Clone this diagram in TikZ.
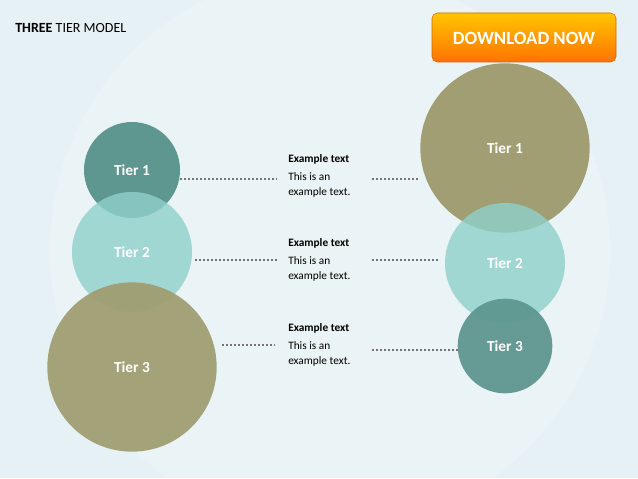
\documentclass[tikz,border=0pt]{standalone}
\usepackage{fontspec}
\setmainfont{Carlito}
\begin{document}
\begin{tikzpicture}[x=0.75pt,y=-0.75pt,
  tier/.style={circle,draw=none,font=\bfseries\fontsize{11.5}{13}\selectfont,text=white,inner sep=0pt},
  dots/.style={draw=black!55,line width=1.3pt,dash pattern=on 1.3pt off 1.7pt},
  body/.style={anchor=west,font=\fontsize{8.5}{10}\selectfont,inner sep=0pt,align=left}]
\definecolor{dk}{HTML}{5E9690}
\definecolor{lt}{HTML}{8FD0CB}
\definecolor{ol}{HTML}{A09E72}
\definecolor{bg}{HTML}{E6F1F5}
\useasboundingbox (0,0) rectangle (638,478);
\fill[bg] (0,0) rectangle (638,478);
\begin{scope}
\clip (0,0) rectangle (638,478);
\fill[white,opacity=0.18] (330,250) circle (280);
\end{scope}
% left
\node[tier,fill=dk,minimum size=72pt] (l1) at (132,170) {};
\node[tier,fill=lt,fill opacity=0.8,minimum size=90pt] (l2) at (132,252) {};
\node[tier,fill=ol,fill opacity=0.95,minimum size=127pt] (l3) at (132,367) {};
\node[tier] at (132,170) {Tier 1};
\node[tier] at (132,252) {Tier 2};
\node[tier] at (132,367) {Tier 3};
% right
\node[tier,fill=ol,minimum size=127pt] (r1) at (505,148) {};
\node[tier,fill=lt,fill opacity=0.8,minimum size=90pt] (r2) at (505,263) {};
\node[tier,fill=dk,fill opacity=0.95,minimum size=71pt] (r3) at (505,346) {};
\node[tier] at (505,148) {Tier 1};
\node[tier] at (505,263) {Tier 2};
\node[tier] at (505,346) {Tier 3};
% text
\foreach \i/\y in {1/159,2/243,3/328}{
 \node[body,font=\bfseries\fontsize{8.5}{10}\selectfont] (h\i) at (288,\y) {Example text};
 \node[body] (a\i) at (288,\y+18) {This is an};
 \node[body] (b\i) at (288,\y+33) {example text.};
}
\coordinate (la1) at (277,179); \coordinate (ra1) at (372,179);
\coordinate (la2) at (277,260); \coordinate (ra2) at (372,260);
\coordinate (la3) at (275,345); \coordinate (ra3) at (372,350);
\draw[dots] (180,179) -- (la1); \draw[dots] (ra1) -- (418,179);
\draw[dots] (195,260) -- (la2); \draw[dots] (ra2) -- (438,260);
\draw[dots] (222,345) -- (la3); \draw[dots] (ra3) -- (458,350);
% title
\node[anchor=west,font=\fontsize{10.5}{12}\selectfont,inner sep=0pt] (title) at (15,28) {\textbf{THREE} TIER MODEL};
% button
\shade[top color=orange!45!yellow,bottom color=orange!90!red,draw=orange!80!black,rounded corners=4] (432,13) rectangle (616,62);
\node[font=\bfseries\fontsize{14}{16}\selectfont,text=white] (dl) at (524,38) {DOWNLOAD NOW};
\end{tikzpicture}
\end{document}
